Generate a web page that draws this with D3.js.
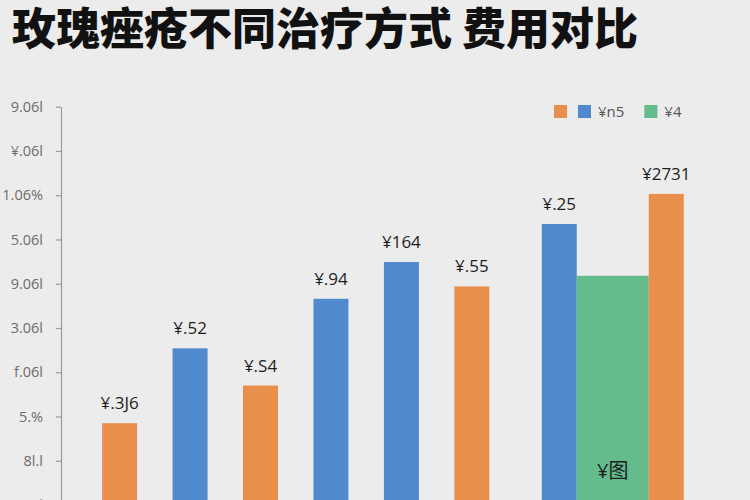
<!DOCTYPE html>
<html>
<head>
<meta charset="utf-8">
<script src="https://cdn.jsdelivr.net/npm/d3@7/dist/d3.min.js"></script>
<style>
  html, body { margin: 0; padding: 0; background: #ececec; }
  svg { display: block; }
</style>
</head>
<body>
<svg id="chart" width="750" height="500"></svg>
<script>
// ---- data ----
const titleText = "玫瑰痤疮不同治疗方式 费用对比";
const categories = ["方式1", "方式2", "方式3", "方式4", "方式5", "方式6", "方式7", "方式8", "方式9"];
const seriesNames = ["", "¥n5", "¥4"];
const seriesColors = ["#e8904b", "#5189cd", "#64bb8b"];
const barSeries = [0, 1, 0, 1, 1, 0, 1, 2, 0];
const values = [2.85, 4.54, 3.70, 5.66, 6.49, 5.94, 7.35, 6.18, 8.03];
const valueLabels = ["¥.3J6", "¥.52", "¥.S4", "¥.94", "¥164", "¥.55", "¥.25", "¥图", "¥2731"];
const yTickValues = [10, 9, 8, 7, 6, 5, 4, 3, 2, 1];
const yTickLabels = ["9.06l", "¥.06l", "1.06%", "5.06l", "9.06l", "3.06l", "f.06l", "5.%", "8l.l", "4.0l"];

// ---- layout ----
const svg = d3.select("#chart");
const W = 750, H = 500;
const axisX = 61;
const barW = 35;
const wideW = 72;

svg.append("rect").attr("width", W).attr("height", H).attr("fill", "#ececec");

svg.append("text")
  .attr("x", 12).attr("y", 45)
  .attr("font-family", "'Noto Sans CJK SC', sans-serif")
  .attr("font-weight", 900)
  .attr("font-size", 44)
  .attr("fill", "#111")
  .text(titleText);

const y = d3.scaleLinear().domain([0, 10]).range([549.3, 106.7]);
const x = d3.scalePoint().domain(categories).range([119.6, 683.2]);

// bar geometry: wide series bars take double width; neighbours snap against them
const bars = categories.map((c, i) => ({
  cat: c, s: barSeries[i], v: values[i], label: valueLabels[i],
  w: barSeries[i] === 2 ? wideW : barW
}));
bars.forEach((b) => { b.x0 = x(b.cat) - b.w / 2; });
bars.forEach((b, i) => {
  if (i + 1 < bars.length && bars[i + 1].s === 2) b.x0 = bars[i + 1].x0 - b.w;
  if (i > 0 && bars[i - 1].s === 2) b.x0 = bars[i - 1].x0 + bars[i - 1].w;
});

// axis
const axis = d3.axisLeft(y)
  .tickValues(yTickValues)
  .tickFormat((d, i) => yTickLabels[i])
  .tickSizeInner(5).tickSizeOuter(0).tickPadding(13);
const gA = svg.append("g").attr("transform", `translate(${axisX},0)`).call(axis);
gA.select(".domain").attr("stroke", "#9a9a9a").attr("stroke-width", 1.2);
gA.selectAll(".tick line").attr("stroke", "#9a9a9a").attr("stroke-width", 1.2);
gA.selectAll(".tick text")
  .attr("font-family", "'Open Sans', sans-serif")
  .attr("font-size", 14.5)
  .attr("fill", "#6d6d6d");

// bars
svg.append("g").selectAll("rect").data(bars).join("rect")
  .attr("x", d => d.x0)
  .attr("y", d => y(d.v))
  .attr("width", d => d.w)
  .attr("height", d => y(0) - y(d.v))
  .attr("fill", d => seriesColors[d.s]);

// value labels
svg.append("g").selectAll("text").data(bars).join("text")
  .attr("x", d => d.x0 + d.w / 2)
  .attr("y", d => d.s === 2 ? 478 : y(d.v) - 14)
  .attr("text-anchor", "middle")
  .attr("font-family", "'Open Sans', 'Noto Sans CJK SC', sans-serif")
  .attr("font-size", d => d.s === 2 ? 20 : 17)
  .attr("fill", "#1e1e1e")
  .text(d => d.label);

// legend
const lg = svg.append("g");
let lx = 554;
seriesNames.forEach((name, i) => {
  lg.append("rect").attr("x", lx).attr("y", 105).attr("width", 13).attr("height", 13)
    .attr("fill", seriesColors[i]);
  lx += 13;
  if (name) {
    const t = lg.append("text").attr("x", lx + 7).attr("y", 117)
      .attr("font-family", "'Open Sans', sans-serif")
      .attr("font-size", 15).attr("fill", "#555")
      .text(name);
    lx += 7 + t.node().getComputedTextLength() + 20;
  } else {
    lx += 11;
  }
});
</script>
</body>
</html>
